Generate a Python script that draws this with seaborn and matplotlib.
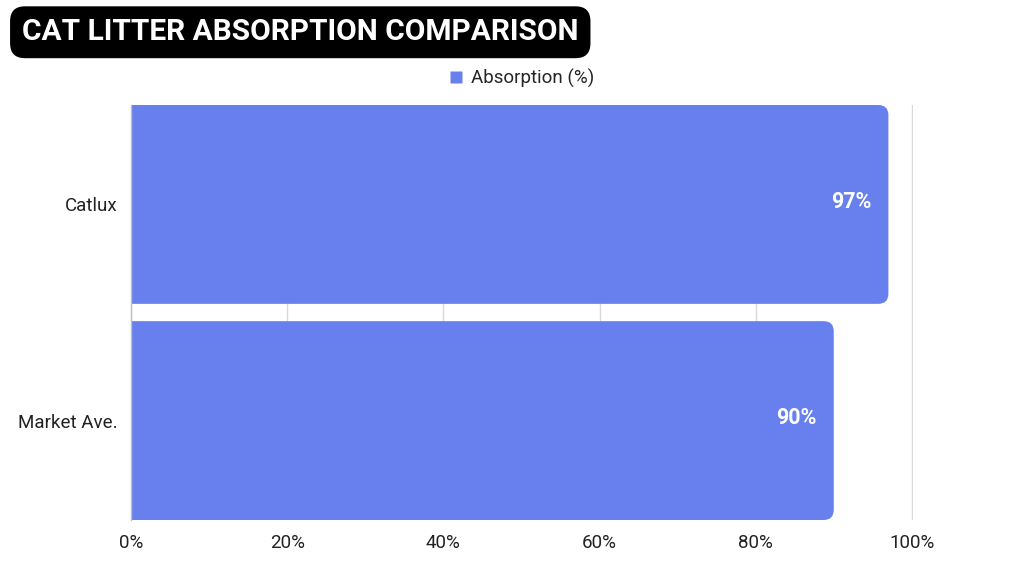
import matplotlib
matplotlib.use("Agg")
import matplotlib.pyplot as plt
import seaborn as sns
import pandas as pd
from matplotlib.patches import FancyBboxPatch
from matplotlib.lines import Line2D

categories = ["Catlux", "Market Ave."]
absorption = [97, 90]
series_name = "Absorption (%)"
x_ticks = [0, 20, 40, 60, 80, 100]
x_tick_labels = ["0%", "20%", "40%", "60%", "80%", "100%"]
title = "CAT LITTER ABSORPTION COMPARISON"

bar_color = "#6880EE"

sns.set_theme(style="white")
plt.rcParams["font.family"] = ["Roboto", "DejaVu Sans"]

df = pd.DataFrame({"category": categories, "value": absorption})

fig = plt.figure(figsize=(10.24, 5.76), dpi=100)
ax = fig.add_axes([0.128, 0.0972, 0.7636, 0.7205])

bw = 0.92
sns.barplot(data=df, y="category", x="value", color=bar_color, width=bw,
            saturation=1, ax=ax, orient="h")

ax.set_xlim(0, 100.15)
ax.set_xticks(x_ticks)
ax.set_xticklabels(x_tick_labels, fontsize=13.5, color="#222222")
ax.tick_params(axis="y", labelsize=13.5, colors="#222222", length=0, pad=10)
ax.tick_params(axis="x", length=0, pad=10)
ax.set_xlabel("")
ax.set_ylabel("")
ax.grid(axis="x", color="#d9d9d9", linewidth=1)
ax.set_axisbelow(True)
for s in ["top", "right", "bottom"]:
    ax.spines[s].set_visible(False)
ax.spines["left"].set_color("#bfbfbf")
ax.spines["left"].set_linewidth(1)

# replace bars with right-rounded versions
for p in list(ax.patches):
    x0, y0 = p.get_x(), p.get_y()
    w, h = p.get_width(), p.get_height()
    p.remove()
    r = 1.3
    fb = FancyBboxPatch((x0 - 3, y0), w + 3, h,
                        boxstyle=f"round,pad=0,rounding_size={r}",
                        mutation_aspect=0.036, facecolor=bar_color,
                        edgecolor="none", zorder=2)
    ax.add_patch(fb)
    ax.text(x0 + w - 2.2, y0 + h / 2 - 0.01, f"{w:.0f}%", ha="right",
            va="center", color="white", fontsize=15.5, fontweight="bold", zorder=3)

ax.set_ylim(len(categories) - 1 + bw / 2, -bw / 2)

# legend
handle = Line2D([0], [0], marker="s", color="none", markerfacecolor=bar_color,
                markeredgecolor="none", markersize=8)
fig.legend([handle], [series_name], loc="center", bbox_to_anchor=(0.508, 0.864),
           frameon=False, fontsize=13.5, handletextpad=0.3, handlelength=1.0)

# title box
fig.text(0.0215, 0.944, title, ha="left", va="center", color="white",
         fontsize=21.5, fontweight="bold",
         bbox=dict(boxstyle="round,pad=0.4,rounding_size=0.5", facecolor="black",
                   edgecolor="none"))

fig.savefig("out.png", dpi=100)
